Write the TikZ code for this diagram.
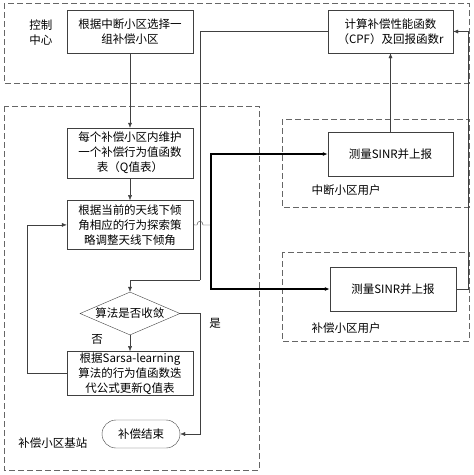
\documentclass[tikz,border=0pt]{standalone}
\usepackage{fontspec}
\newfontfamily\cjk{Noto Sans CJK SC}
\usetikzlibrary{shapes.geometric, arrows.meta, positioning}

\begin{document}
\begin{tikzpicture}[
    x=1pt, y=-1pt,
    font=\cjk\fontsize{11.5}{15}\selectfont,
    block/.style = {draw=black!75, rectangle, minimum height=43pt, minimum width=126pt, align=center, inner sep=1pt},
    decision/.style = {draw=black!75, diamond, aspect=2.33, minimum width=100pt, minimum height=43pt, inner sep=0pt},
    terminal/.style = {draw=black!75, rectangle, rounded corners=14pt, minimum width=78pt, minimum height=28pt},
    group/.style = {draw=black!60, dash pattern=on 6pt off 3pt},
    tag/.style = {align=center, inner sep=0pt},
    line/.style = {draw=black!75, -{Latex[length=5pt, width=4pt]}},
    plain/.style = {draw=black!75},
    branch/.style = {line, draw=black, line width=1.2pt}
]
    \useasboundingbox (0,0) rectangle (474,475);

    % Groups
    \draw [group] (4,3) rectangle (469,83);
    \draw [group] (4,106) rectangle (259,470);
    \draw [group] (282,119) rectangle (469,207);
    \draw [group] (282,252) rectangle (469,341);

    % Nodes
    \node [tag] (ctrl) at (41,33) {控制\\中心};
    \node [block] (select) at (130,31.5) {根据中断小区选择一\\组补偿小区};
    \node [block, minimum width=125pt] (cpf) at (390.5,31.5) {计算补偿性能函数\\（CPF）及回报函数r};
    \node [block, minimum height=50pt] (qtab) at (130,153) {每个补偿小区内维护\\一个补偿行为值函数\\表（Q值表）};
    \node [block, minimum height=49pt, below=22pt of qtab] (tilt) {根据当前的天线下倾\\角相应的行为探索策\\略调整天线下倾角};
    \node [block, minimum width=125pt, minimum height=44pt] (meas1) at (390.5,154) {测量SINR并上报};
    \node [block, minimum height=44pt] (meas2) at (393,289) {测量SINR并上报};
    \node [decision] (conv) at (130,313.5) {算法是否收敛};
    \node [block, minimum height=44pt, below=16pt of conv] (update) {根据Sarsa-learning\\算法的行为值函数迭\\代公式更新Q值表};
    \node [terminal] (stop) at (141,434) {补偿结束};
    \node [tag] (outlabel) at (346,190) {中断小区用户};
    \node [tag] (complabel) at (346,328) {补偿小区用户};
    \node [tag] (bslabel) at (53,443) {补偿小区基站};
    \node [tag] (yes) at (215,323) {是};
    \node [tag] (no) at (97,339) {否};
    \coordinate (split) at (211,225);
    \coordinate (hop) at (200,225);
    \coordinate (ret) at (200,280);

    % Edges
    \draw [line] (select) -- (qtab);
    \draw [line] (qtab) -- (tilt);
    \draw [plain] (tilt.east) -- ([xshift=-3pt]hop) .. controls ([xshift=-3pt, yshift=5pt]hop) and ([xshift=3pt, yshift=5pt]hop) .. ([xshift=3pt]hop) -- (split);
    \draw [branch] (split) |- (meas1.west);
    \draw [branch] (split) |- (meas2.west);
    \draw [line] (meas1) -- (cpf);
    \draw [line] (meas2.east) -- ++(12pt,0) |- (cpf.east);
    \draw [plain] (cpf.west) -| (ret);
    \draw [line] (ret) -| (conv.north);
    \draw [line] (conv.east) -- ++(20pt,0) |- (stop.east);
    \draw [line] (conv) -- (update);
    \draw [line] (update.west) -- ++(-40pt,0) |- (tilt.west);

\end{tikzpicture}
\end{document}
